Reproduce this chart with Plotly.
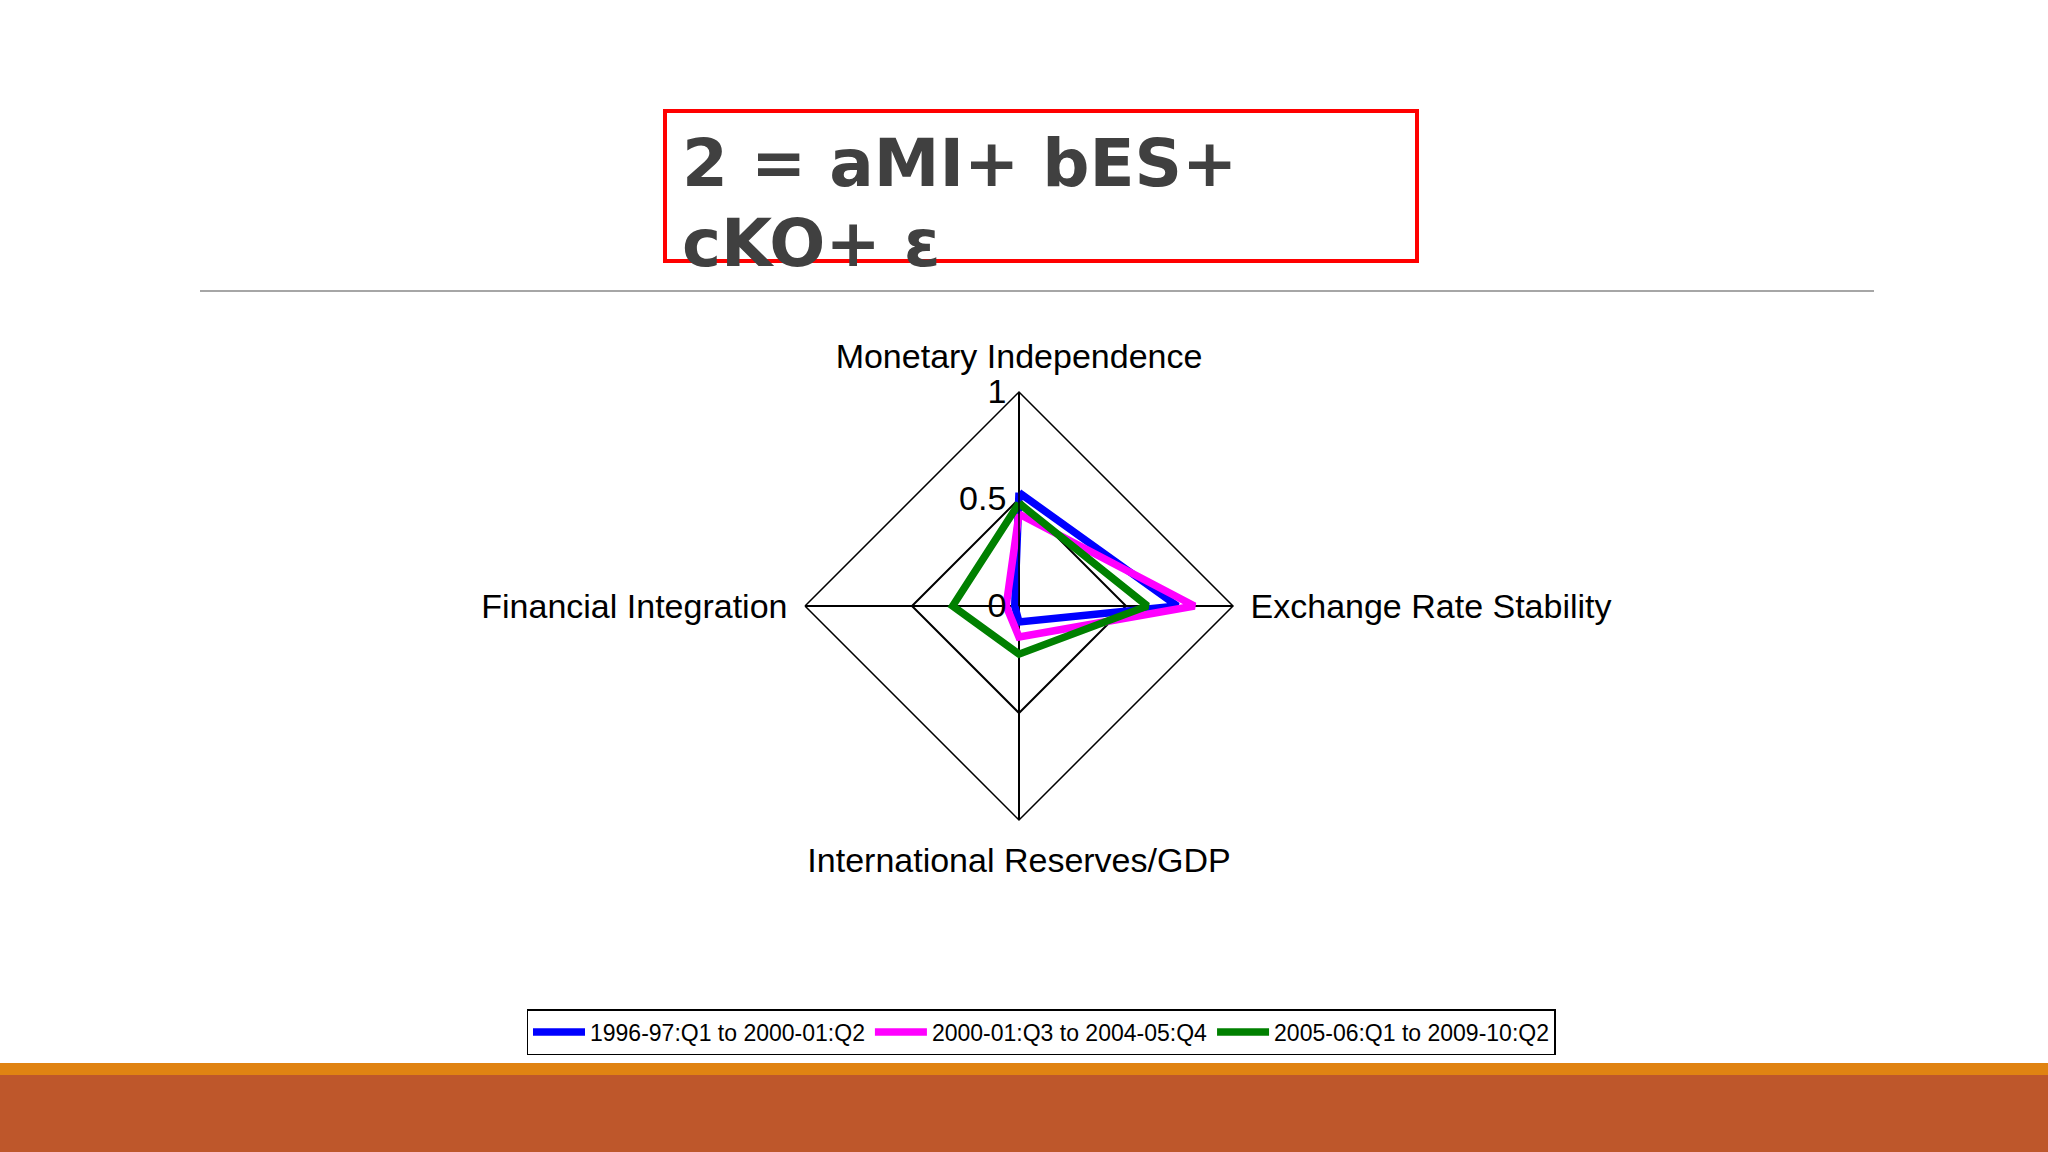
import plotly.graph_objects as go

# Data
axes_labels = ["Monetary Independence", "Exchange Rate Stability",
               "International Reserves/GDP", "Financial Integration"]
series_names = ["1996-97:Q1 to 2000-01:Q2",
                "2000-01:Q3 to 2004-05:Q4",
                "2005-06:Q1 to 2009-10:Q2"]
period1 = [0.53, 0.74, 0.075, 0.02]
period2 = [0.43, 0.82, 0.145, 0.06]
period3 = [0.48, 0.60, 0.225, 0.31]
radial_ticks = [0, 0.5, 1]
radial_ticktext = ["0", "0.5", "1"]
line_colors = ["#0000FF", "#FF00FF", "#008000"]

W, H = 2048, 1152


def px_x(x):
    return x / W


def px_y(y):
    return 1 - y / H


fig = go.Figure()

for name, vals, col in zip(series_names, [period1, period2, period3], line_colors):
    # close the polygon
    fig.add_trace(go.Scatterpolar(
        r=vals + vals[:1],
        theta=axes_labels + axes_labels[:1],
        mode="lines",
        name=name,
        line=dict(color=col, width=7.5),
    ))

# polar area: centre ~(1019, 606), radius ~214 px
cx, cy, rad = 1019, 606, 214

fig.update_layout(
    width=W, height=H,
    margin=dict(l=0, r=0, t=0, b=0),
    paper_bgcolor="white",
    plot_bgcolor="white",
    font=dict(family="Liberation Sans, Arial, sans-serif", color="black"),
    polar=dict(
        domain=dict(x=[px_x(cx - rad), px_x(cx + rad)],
                    y=[px_y(cy + rad), px_y(cy - rad)]),
        bgcolor="white",
        gridshape="linear",
        angularaxis=dict(
            rotation=90, direction="clockwise",
            showline=True, linecolor="black", linewidth=1.5,
            showgrid=True, gridcolor="black", gridwidth=1.5,
            # invisible ticks push the labels a bit further out
            ticks="outside", ticklen=10, tickcolor="rgba(0,0,0,0)",
            tickfont=dict(size=34, color="black"),
        ),
        radialaxis=dict(
            range=[0, 1], angle=90, side="counterclockwise",
            tickvals=radial_ticks, ticktext=radial_ticktext,
            showline=True, linecolor="black", linewidth=1.5,
            showgrid=True, gridcolor="black", gridwidth=1.5,
            ticks="", tickangle=90,
            tickfont=dict(size=34, color="black"),
        ),
    ),
    legend=dict(
        orientation="h",
        x=px_x(1041), xanchor="center",
        y=px_y(1055), yanchor="bottom",
        bordercolor="black", borderwidth=1.5,
        bgcolor="white",
        font=dict(size=23, color="black"),
        itemwidth=52,
        tracegroupgap=0,
    ),
    showlegend=True,
)

# slide decoration: title box, rule and footer bands
fig.add_shape(type="rect", xref="paper", yref="paper",
              x0=px_x(665), x1=px_x(1417), y0=px_y(261), y1=px_y(111),
              line=dict(color="#FF0000", width=4), layer="below")
fig.add_shape(type="line", xref="paper", yref="paper",
              x0=px_x(200), x1=px_x(1874), y0=px_y(291), y1=px_y(291),
              line=dict(color="#A6A6A6", width=2))
fig.add_shape(type="rect", xref="paper", yref="paper",
              x0=0, x1=1, y0=px_y(1075), y1=px_y(1063),
              line=dict(width=0), fillcolor="#E08312")
fig.add_shape(type="rect", xref="paper", yref="paper",
              x0=0, x1=1, y0=0, y1=px_y(1075),
              line=dict(width=0), fillcolor="#BE572B")

title_font = dict(family="DejaVu Sans", size=66, color="#404040")
fig.add_annotation(text="<b>2 = aMI+ bES+</b>", xref="paper", yref="paper",
                   x=px_x(680), xanchor="left", y=px_y(163), yanchor="middle",
                   showarrow=False, font=title_font)
fig.add_annotation(text="<b>cKO+ ε</b>", xref="paper", yref="paper",
                   x=px_x(680), xanchor="left", y=px_y(243), yanchor="middle",
                   showarrow=False, font=title_font)

fig.write_html("out.html", config={"displayModeBar": False},
               post_script="document.body.style.margin='0';")
